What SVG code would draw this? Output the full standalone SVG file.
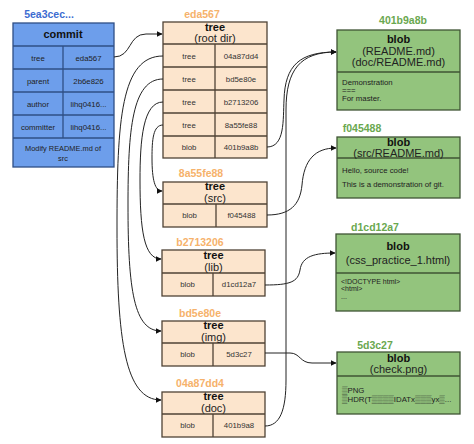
<svg xmlns="http://www.w3.org/2000/svg" width="474" height="444" viewBox="0 0 474 444">
<style>
text{font-family:"Liberation Sans",Arial,sans-serif;}
.cbox{fill:#6d9eeb;stroke:#2f4f86;stroke-width:1.3;}
.tbox{fill:#fce5cd;stroke:#4f4235;stroke-width:1.3;}
.bbox{fill:#93c47d;stroke:#3f5535;stroke-width:1.3;}
.sm{font-size:7.8px;fill:#333;text-anchor:middle;}
.smc{font-size:7.8px;fill:#222;text-anchor:middle;}
.hd{font-size:11px;font-weight:bold;fill:#111;text-anchor:middle;}
.sub{font-size:11px;fill:#222;text-anchor:middle;}
.body{font-size:7.8px;fill:#222;}
.lc{font-size:10.5px;font-weight:bold;fill:#3d6cd1;text-anchor:middle;}
.lt{font-size:10.5px;font-weight:bold;fill:#f6b26b;text-anchor:middle;}
.lb{font-size:10.5px;font-weight:bold;fill:#6aa84f;text-anchor:middle;}
.edge{fill:none;stroke:#222;stroke-width:1;marker-end:url(#arr);}
</style>
<defs>
<marker id="arr" viewBox="0 0 10 10" refX="9" refY="5" markerWidth="6" markerHeight="6" orient="auto" markerUnits="userSpaceOnUse">
<path d="M0,0 L10,5 L0,10 z" fill="#111"/>
</marker>
</defs>
<rect width="474" height="444" fill="#ffffff"/>

<g id="commit">
<text class="lc" x="49" y="18">5ea3cec...</text>
<rect class="cbox" x="13" y="23" width="101" height="144"/>
<line class="cbox" x1="13" y1="46" x2="114" y2="46"/>
<line class="cbox" x1="13" y1="69" x2="114" y2="69"/>
<line class="cbox" x1="13" y1="92" x2="114" y2="92"/>
<line class="cbox" x1="13" y1="115" x2="114" y2="115"/>
<line class="cbox" x1="13" y1="138" x2="114" y2="138"/>
<line class="cbox" x1="63" y1="46" x2="63" y2="138"/>
<text class="hd" x="63" y="38" style="font-size:11px">commit</text>
<text class="smc" x="38" y="60.5">tree</text><text class="smc" x="88.5" y="60.5">eda567</text>
<text class="smc" x="38" y="83.5">parent</text><text class="smc" x="88.5" y="83.5">2b6e826</text>
<text class="smc" x="38" y="106.5">author</text><text class="smc" x="88.5" y="106.5">lihq0416...</text>
<text class="smc" x="38" y="129.5">committer</text><text class="smc" x="88.5" y="129.5">lihq0416...</text>
<text class="smc" x="63" y="151" style="font-size:7.4px">Modify README.md of</text>
<text class="smc" x="63" y="161" style="font-size:7.4px">src</text>
</g>

<g id="tree-eda567">
<text class="lt" x="202" y="18">eda567</text>
<rect class="tbox" x="163" y="22" width="104" height="136"/>
<line class="tbox" x1="163" y1="44" x2="267" y2="44"/>
<line class="tbox" x1="163" y1="67" x2="267" y2="67"/>
<line class="tbox" x1="163" y1="90" x2="267" y2="90"/>
<line class="tbox" x1="163" y1="113" x2="267" y2="113"/>
<line class="tbox" x1="163" y1="136" x2="267" y2="136"/>
<line class="tbox" x1="215" y1="44" x2="215" y2="158"/>
<text class="hd" x="215" y="31">tree</text>
<text class="sub" x="215" y="42">(root dir)</text>
<text class="sm" x="189" y="58.5">tree</text><text class="sm" x="241" y="58.5">04a87dd4</text>
<text class="sm" x="189" y="81.5">tree</text><text class="sm" x="241" y="81.5">bd5e80e</text>
<text class="sm" x="189" y="104.5">tree</text><text class="sm" x="241" y="104.5">b2713206</text>
<text class="sm" x="189" y="127.5">tree</text><text class="sm" x="241" y="127.5">8a55fe88</text>
<text class="sm" x="189" y="150">blob</text><text class="sm" x="241" y="150">401b9a8b</text>
</g>

<g id="tree-8a55fe88">
<text class="lt" x="201" y="177">8a55fe88</text>
<rect class="tbox" x="163" y="182" width="104" height="45"/>
<line class="tbox" x1="163" y1="204" x2="267" y2="204"/>
<line class="tbox" x1="216" y1="204" x2="216" y2="227"/>
<text class="hd" x="215" y="190">tree</text>
<text class="sub" x="215" y="202">(src)</text>
<text class="sm" x="189.5" y="218">blob</text><text class="sm" x="241.5" y="218">f045488</text>
</g>

<g id="tree-b2713206">
<text class="lt" x="200" y="246">b2713206</text>
<rect class="tbox" x="162" y="250" width="103" height="46"/>
<line class="tbox" x1="162" y1="273" x2="265" y2="273"/>
<line class="tbox" x1="213" y1="273" x2="213" y2="296"/>
<text class="hd" x="213.5" y="259">tree</text>
<text class="sub" x="213.5" y="271">(lib)</text>
<text class="sm" x="187.5" y="287">blob</text><text class="sm" x="239" y="287">d1cd12a7</text>
</g>

<g id="tree-bd5e80e">
<text class="lt" x="200" y="317">bd5e80e</text>
<rect class="tbox" x="162" y="321" width="103" height="45"/>
<line class="tbox" x1="162" y1="343" x2="265" y2="343"/>
<line class="tbox" x1="213" y1="343" x2="213" y2="366"/>
<text class="hd" x="213.5" y="329">tree</text>
<text class="sub" x="213.5" y="341">(img)</text>
<text class="sm" x="187.5" y="357">blob</text><text class="sm" x="239" y="357">5d3c27</text>
</g>

<g id="tree-04a87dd4">
<text class="lt" x="200" y="387">04a87dd4</text>
<rect class="tbox" x="162" y="392" width="103" height="45"/>
<line class="tbox" x1="162" y1="414" x2="265" y2="414"/>
<line class="tbox" x1="213" y1="414" x2="213" y2="437"/>
<text class="hd" x="213.5" y="400">tree</text>
<text class="sub" x="213.5" y="412">(doc)</text>
<text class="sm" x="187.5" y="428">blob</text><text class="sm" x="239" y="428">401b9a8</text>
</g>

<g id="blob-401b9a8b">
<text class="lb" x="403" y="24">401b9a8b</text>
<rect class="bbox" x="337" y="30" width="123" height="80"/>
<line class="bbox" x1="337" y1="72" x2="460" y2="72"/>
<text class="hd" x="398.5" y="43">blob</text>
<text class="sub" x="398.5" y="55">(README.md)</text>
<text class="sub" x="398.5" y="66">(doc/README.md)</text>
<text class="body" x="342" y="85">Demonstration</text>
<text class="body" x="342" y="93">===</text>
<text class="body" x="342" y="101">For master.</text>
</g>

<g id="blob-f045488">
<text class="lb" x="362" y="132">f045488</text>
<rect class="bbox" x="337" y="137" width="123" height="61"/>
<line class="bbox" x1="337" y1="158" x2="460" y2="158"/>
<text class="hd" x="398.5" y="146">blob</text>
<text class="sub" x="398.5" y="157">(src/README.md)</text>
<text class="body" x="342" y="173">Hello, source code!</text>
<text class="body" x="342" y="187">This is a demonstration of git.</text>
</g>

<g id="blob-d1cd12a7">
<text class="lb" x="375" y="231">d1cd12a7</text>
<rect class="bbox" x="336" y="234" width="124" height="77"/>
<line class="bbox" x1="336" y1="273" x2="460" y2="273"/>
<text class="hd" x="398" y="250">blob</text>
<text class="sub" x="398" y="264">(css_practice_1.html)</text>
<text class="body" x="341" y="284" style="font-size:7px">&lt;!DOCTYPE html&gt;</text>
<text class="body" x="341" y="291" style="font-size:7px">&lt;html&gt;</text>
<text class="body" x="341" y="299" style="font-size:7px">...</text>
</g>

<g id="blob-5d3c27">
<text class="lb" x="375" y="349">5d3c27</text>
<rect class="bbox" x="337" y="352" width="123" height="62"/>
<line class="bbox" x1="337" y1="376" x2="460" y2="376"/>
<text class="hd" x="398.5" y="362">blob</text>
<text class="sub" x="398.5" y="373">(check.png)</text>
<text class="body" x="342" y="393">▒PNG</text>
<text class="body" x="342" y="402">▒HDR(T▒▒▒▒IDATx▒▒▒yx▒...</text>
</g>

<g id="connectors">
<path class="edge" d="M114,57 C132,57 128,34 146,34 L162,34"/>
<path class="edge" d="M163,56 C121,56 117,120 117,228 C117,340 125,400 161,400"/>
<path class="edge" d="M163,79 C132,79 128,130 128,205 C128,290 134,331 161,331"/>
<path class="edge" d="M163,102 C143,102 140,140 140,180 C140,230 144,259 161,259"/>
<path class="edge" d="M163,125 C153,125 152,140 152,158 C152,180 155,191 162,191"/>
<path class="edge" d="M267,147 C285,147 283,120 284,100 C285,65 300,52 336,52"/>
<path class="edge" d="M265,426 C280,426 286,410 286,380 L286,110 C286,70 300,52 336,52"/>
<path class="edge" d="M267,215 C290,215 300,205 302,185 C304,160 315,148 336,148"/>
<path class="edge" d="M265,285 C290,285 298,282 300,270 C302,256 315,253 335,253"/>
<path class="edge" d="M265,353 L290,353 C300,353 300,363 312,363 L336,363"/>
</g>
</svg>
